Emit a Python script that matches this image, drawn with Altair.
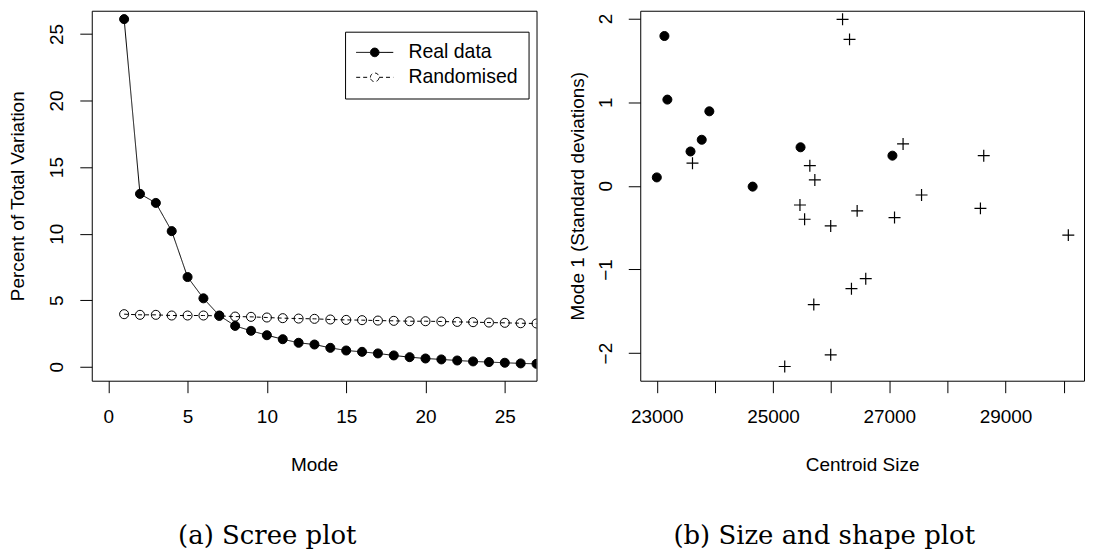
import altair as alt
import pandas as pd

# ---------------- data ----------------
modes = list(range(1, 28))
real_data = [26.12, 12.99, 12.31, 10.19, 6.74, 5.14, 3.85, 3.07, 2.70, 2.37,
             2.07, 1.80, 1.67, 1.42, 1.22, 1.12, 1.00, 0.85, 0.72, 0.62,
             0.55, 0.47, 0.40, 0.35, 0.30, 0.25, 0.22]
randomised = [3.95, 3.90, 3.90, 3.85, 3.85, 3.85, 3.82, 3.77, 3.75, 3.70,
              3.65, 3.62, 3.60, 3.55, 3.52, 3.50, 3.47, 3.45, 3.42, 3.42,
              3.40, 3.37, 3.35, 3.32, 3.30, 3.27, 3.25]
series_names = ["Real data", "Randomised"]

circle_size = [23000, 23131, 23182, 23580, 23773, 23904, 24649, 25473, 27054]
circle_mode1 = [0.10, 1.79, 1.03, 0.41, 0.55, 0.89, -0.01, 0.46, 0.36]
cross_size = [23614, 26196, 26316, 27237, 28625, 25633, 25719, 25463, 25543, 25992,
              26447, 27090, 27555, 28568, 30080, 26595, 26349, 25701, 25992, 25201]
cross_mode1 = [0.27, 1.99, 1.75, 0.50, 0.36, 0.24, 0.07, -0.23, -0.40, -0.48,
               -0.30, -0.38, -0.11, -0.27, -0.59, -1.11, -1.23, -1.42, -2.02, -2.16]

scree_ticks = [0, 5, 10, 15, 20, 25]
size_ticks = [23000, 24000, 25000, 26000, 27000, 28000, 29000, 30000]
mode1_ticks = [-2, -1, 0, 1, 2]

scree = pd.DataFrame({
    "Mode": modes + modes,
    "Percent": real_data + randomised,
    "Series": [series_names[0]] * len(modes) + [series_names[1]] * len(modes),
})
circles_df = pd.DataFrame({"Centroid": circle_size, "Mode1": circle_mode1})
crosses_df = pd.DataFrame({"Centroid": cross_size, "Mode1": cross_mode1})

# ---------------- style ----------------
SANS = "Liberation Sans"
SERIF = "DejaVu Serif"
FS = 19
W_L, W_R, H = 446, 445, 371

axis_common = dict(domain=False, grid=False, ticks=True, tickSize=12, tickColor="black",
                   tickWidth=1, labelFont=SANS, labelFontSize=FS, labelColor="black",
                   titleFont=SANS, titleFontSize=FS, titleFontWeight="normal",
                   titleColor="black", labelOverlap=False, labelFlush=False)


def x_axis(values, title, width, **kw):
    return alt.Axis(values=values, title=title, labelBaseline="alphabetic", labelPadding=30,
                    titleBaseline="alphabetic", titleAlign="center", titleX=width / 2, titleY=90,
                    **axis_common, **kw)


def y_axis(values, title, title_x):
    return alt.Axis(values=values, title=title, labelAngle=-90, labelAlign="center",
                    labelBaseline="alphabetic", labelPadding=17, titleAngle=-90,
                    titleBaseline="alphabetic", titleAlign="center", titleX=title_x,
                    titleY=H / 2, **axis_common)


# legend glyph: line with a circle on it (drawn with the series' dash and fill)
legend_glyph = "M-3.1,0L-0.72,0M0.72,0L3.1,0M-0.72,0A0.72,0.72,0,1,1,0.72,0A0.72,0.72,0,1,1,-0.72,0Z"

legend_def = alt.Legend(
    title=None, orient="none", legendX=254, legendY=21, direction="vertical",
    labelFont=SANS, labelFontSize=19.5, labelColor="black",
    symbolType=legend_glyph, symbolSize=144, symbolStrokeColor="black", symbolStrokeWidth=1,
    symbolOffset=9, labelOffset=24,
    padding=11, rowPadding=4, strokeColor="black", fillColor="white",
)

xL = alt.X("Mode:Q", scale=alt.Scale(domain=[-1.04, 27.0], nice=False, zero=False),
           axis=x_axis(scree_ticks, "Mode", W_L))
yL = alt.Y("Percent:Q", scale=alt.Scale(domain=[-1.05, 26.75], nice=False, zero=False),
           axis=y_axis(scree_ticks, "Percent of Total Variation", -68))

lines = alt.Chart(scree).mark_line(color="black", strokeWidth=1, clip=True).encode(
    x=xL, y=yL,
    strokeDash=alt.StrokeDash("Series:N", scale=alt.Scale(domain=series_names, range=[[1, 0], [4, 3]]),
                              legend=legend_def),
)
points = alt.Chart(scree).mark_point(shape="circle", filled=True, size=82, stroke="black",
                                     strokeWidth=1, opacity=1, clip=True).encode(
    x=xL, y=yL,
    fill=alt.Fill("Series:N", scale=alt.Scale(domain=series_names, range=["black", "transparent"]),
                  legend=legend_def),
)

caption_common = dict(orient="bottom", anchor="middle", frame="group", font=SERIF, fontSize=26,
                      fontWeight="normal", color="black", baseline="alphabetic", offset=70)

left = alt.layer(lines, points).properties(
    width=W_L, height=H,
    title=alt.TitleParams("(a) Scree plot", dx=-47, **caption_common),
)

xR = alt.X("Centroid:Q", scale=alt.Scale(domain=[22715, 30350], nice=False, zero=False),
           axis=x_axis(size_ticks, "Centroid Size", W_R, format="d",
                       labelExpr="datum.value % 2000 == 1000 ? datum.label : ''"))
yR = alt.Y("Mode1:Q", scale=alt.Scale(domain=[-2.33, 2.092], nice=False, zero=False),
           axis=y_axis(mode1_ticks, "Mode 1 (Standard deviations)", -57))

circles = alt.Chart(circles_df).mark_point(
    shape="circle", filled=True, fill="black", stroke="black", strokeWidth=1, size=82, opacity=1
).encode(x=xR, y=yR)
crosses = alt.Chart(crosses_df).mark_point(
    shape="M-1,0L1,0M0,-1L0,1", filled=False, stroke="black", strokeWidth=1.2, size=144, opacity=1
).encode(x=xR, y=yR)

right = alt.layer(circles, crosses).properties(
    width=W_R, height=H,
    title=alt.TitleParams("(b) Size and shape plot", dx=-38, **caption_common),
)

chart = alt.hconcat(left, right, spacing=30).properties(
    padding={"left": 0, "top": 1, "right": 0, "bottom": 0},
    background="white",
).configure_view(stroke="black", strokeWidth=1)

chart.save("out.html", embed_options={"renderer": "svg", "actions": False})
